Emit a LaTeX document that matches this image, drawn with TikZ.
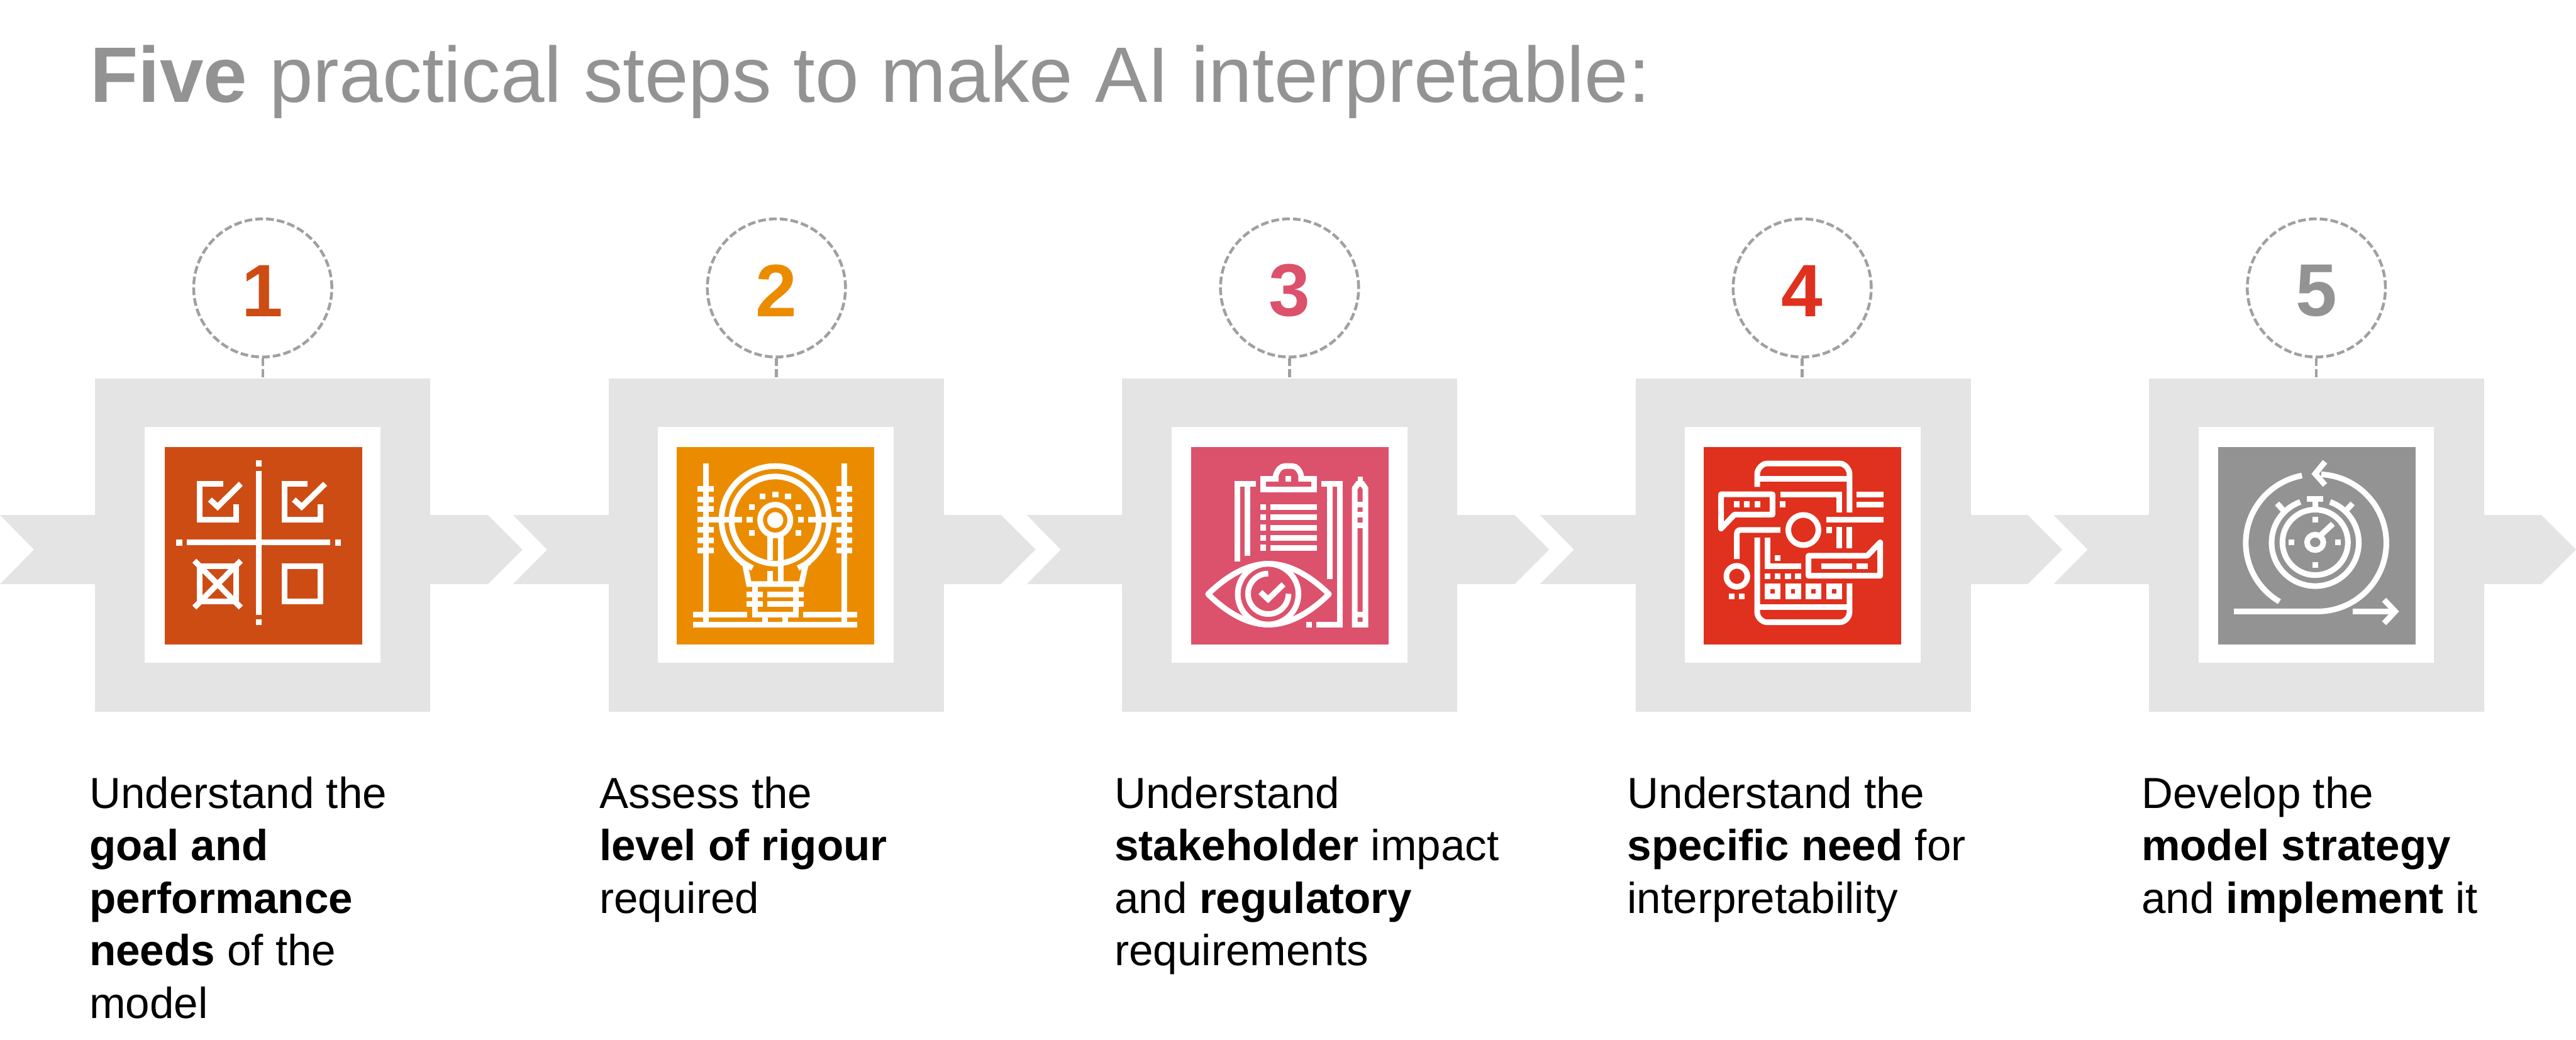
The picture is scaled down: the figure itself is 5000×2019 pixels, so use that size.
\documentclass[tikz,border=0pt]{standalone}
\usepackage{fontspec}
\setmainfont{Liberation Sans}
\definecolor{bandgrey}{HTML}{E4E4E4}
\definecolor{titlegrey}{HTML}{939393}
\definecolor{linkgrey}{HTML}{A0A0A0}
\definecolor{stepone}{HTML}{CD4C14}
\definecolor{steptwo}{HTML}{EB8C00}
\definecolor{stepthree}{HTML}{DC516B}
\definecolor{stepfour}{HTML}{E0301E}
\definecolor{stepfive}{HTML}{939393}
\tikzset{
  greybox/.style={fill=bandgrey, minimum width=6.5cm, minimum height=6.47cm, inner sep=0},
  whitebox/.style={fill=white, minimum width=4.57cm, minimum height=4.58cm, inner sep=0},
  iconbox/.style={minimum width=3.83cm, minimum height=3.83cm, inner sep=0},
  numcircle/.style={draw=linkgrey, line width=0.055cm, dash pattern=on 0.15cm off 0.06cm, circle, fill=white, minimum size=2.68cm, inner sep=0, text height=1.1cm, font=\bfseries\fontsize{41}{42}\selectfont},
  linkline/.style={draw=linkgrey, line width=0.055cm, dash pattern=on 0.15cm off 0.06cm},
  steptext/.style={anchor=north west, inner sep=0, align=left, font=\fontsize{24}{29}\selectfont},
  iconline/.style={draw=white, line width=0.11cm},
}
\begin{document}
\begin{tikzpicture}[x=0.01cm,y=-0.01cm]
	\useasboundingbox (0,0) rectangle (5000,2019);

	%Title
	%------------------------------------------------------
	\node[anchor=base west, inner sep=0, text=titlegrey, font=\fontsize{43.4}{50}\selectfont] (title) at (174,198) {\textbf{Five} practical steps to make AI interpretable:};

	%Band
	%------------------------------------------------------
	\fill[bandgrey] (0,1000) -- (947,1000) -- (1014,1067) -- (947,1134) -- (0,1134) -- (66,1067) -- cycle;
	\fill[bandgrey] (996,1000) -- (1943,1000) -- (2010,1067) -- (1943,1134) -- (996,1134) -- (1062,1067) -- cycle;
	\fill[bandgrey] (1993,1000) -- (2940,1000) -- (3007,1067) -- (2940,1134) -- (1993,1134) -- (2059,1067) -- cycle;
	\fill[bandgrey] (2989,1000) -- (3936,1000) -- (4003,1067) -- (3936,1134) -- (2989,1134) -- (3055,1067) -- cycle;
	\fill[bandgrey] (3986,1000) -- (4933,1000) -- (5000,1067) -- (4933,1134) -- (3986,1134) -- (4052,1067) -- cycle;

	%Boxes
	%------------------------------------------------------
	\node[greybox] (box1) at (510,1058) {};
	\node[greybox] (box2) at (1507,1058) {};
	\node[greybox] (box3) at (2503,1058) {};
	\node[greybox] (box4) at (3500,1058) {};
	\node[greybox] (box5) at (4496,1058) {};

	\node[whitebox] (white1) at (510,1058) {};
	\node[whitebox] (white2) at (1506,1058) {};
	\node[whitebox] (white3) at (2503,1058) {};
	\node[whitebox] (white4) at (3499,1058) {};
	\node[whitebox] (white5) at (4496,1058) {};

	\node[iconbox, fill=stepone] (icon1) at (511,1059) {};
	\node[iconbox, fill=steptwo] (icon2) at (1505,1059) {};
	\node[iconbox, fill=stepthree] (icon3) at (2504,1059) {};
	\node[iconbox, fill=stepfour] (icon4) at (3499,1059) {};
	\node[iconbox, fill=stepfive] (icon5) at (4497,1059) {};

	%Numbers
	%------------------------------------------------------
	\node[numcircle, text=stepone] (num1) at (510,559) {1};
	\node[numcircle, text=steptwo] (num2) at (1507,559) {2};
	\node[numcircle, text=stepthree] (num3) at (2503,559) {3};
	\node[numcircle, text=stepfour] (num4) at (3498,559) {4};
	\node[numcircle, text=stepfive] (num5) at (4496,559) {5};

	\draw[linkline] (num1) -- (box1);
	\draw[linkline] (num2) -- (box2);
	\draw[linkline] (num3) -- (box3);
	\draw[linkline] (num4) -- (num4 |- box4.north);
	\draw[linkline] (num5) -- (box5);

	%Icon 1
	%------------------------------------------------------
	\begin{scope}[shift={(300,860)},x=0.00333cm,y=-0.00333cm]
		\draw[iconline] (607,162) -- (607,1003);
		\draw[iconline] (188,581) -- (1026,581);
		\foreach \dotx/\doty in {607/119,607/1045,144/581,1069/581}
			\fill[white] (\dotx-17,\doty-17) rectangle (\dotx+17,\doty+17);
		\draw[iconline] (400,238) -- (262,238) -- (262,448) -- (475,448) -- (475,357);
		\draw[iconline] (323,330) -- (368,372) -- (503,238);
		\draw[iconline] (892,238) -- (757,238) -- (757,448) -- (966,448) -- (966,357);
		\draw[iconline] (812,330) -- (858,372) -- (995,238);
		\draw[iconline] (262,718) rectangle (475,926);
		\draw[iconline] (232,687) -- (503,960);
		\draw[iconline] (503,687) -- (232,960);
		\draw[iconline] (757,718) rectangle (966,926);
	\end{scope}

	%Icon 2
	%------------------------------------------------------
	\begin{scope}[shift={(1200,800)},x=0.00357cm,y=-0.00333cm]
		\draw[iconline] (476,300) -- (476,1240);
		\draw[iconline] (1230,300) -- (1230,1240);
		\foreach \ticky in {449,510,567,688,748,808} {
			\draw[iconline] (432,\ticky) -- (520,\ticky);
			\draw[iconline] (1186,\ticky) -- (1272,\ticky);
		}
		\draw[iconline] (432,628) -- (672,628);
		\draw[iconline] (1033,628) -- (1272,628);
		\draw[iconline] (408,1240) -- (1300,1240);
		\draw[iconline] (408,1181) -- (702,1181);
		\draw[iconline] (1005,1181) -- (1300,1181);
		\draw[iconline] (853,628) ++(124:292 and 313) arc[start angle=124,end angle=416,x radius=292,y radius=313];
		\draw[iconline] (853,630) ellipse[x radius=237,y radius=254];
		\draw[iconline] (853,630) ellipse[x radius=82,y radius=90];
		\fill[white] (853,630) ellipse[x radius=44,y radius=47];
		\foreach \dotx/\doty in {783/493,854/480,923/493,726/554,979/554,714/628,992/628,726/704,979/704}
			\fill[white] (\dotx-16,\doty-17) rectangle (\dotx+16,\doty+17);
		\draw[iconline] (826,720) -- (826,865);
		\draw[iconline] (882,720) -- (882,1003);
		\draw[iconline] (826,925) -- (826,1003);
		\draw[iconline] (668,875) -- (730,910);
		\draw[iconline] (1040,875) -- (977,910);
		\draw[iconline] (688,885) -- (710,1003) -- (995,1003) -- (1020,885);
		\draw[iconline] (742,1003) -- (742,1180) -- (965,1180) -- (965,1003);
		\draw[iconline] (698,1063) -- (785,1063);
		\draw[iconline] (808,1063) -- (1008,1063);
		\draw[iconline] (698,1120) -- (785,1120);
		\draw[iconline] (808,1120) -- (1008,1120);
		\draw[iconline] (797,1180) -- (797,1240);
		\draw[iconline] (908,1180) -- (908,1240);
	\end{scope}

	%Icon 3
	%------------------------------------------------------
	\begin{scope}[shift={(2250,800)},x=0.00333cm,y=-0.00333cm]
		\draw[iconline] (563,418) -- (456,418) -- (456,870);
		\draw[iconline] (515,418) -- (515,838);
		\draw[iconline] (680,390) -- (605,390) -- (605,450) -- (904,450) -- (904,390) -- (828,390);
		\draw[iconline] (680,405) -- (680,370) .. controls (690,335) and (710,315) .. (735,315) -- (775,315) .. controls (800,315) and (818,335) .. (828,370) -- (828,405);
		\fill[white] (736,373) rectangle (770,406);
		\foreach \listy in {554,614,674,734,791} {
			\fill[white] (589,\listy-17) rectangle (622,\listy+17);
			\draw[iconline] (649,\listy) -- (920,\listy);
		}
		\draw[iconline] (947,418) -- (1053,418) -- (1053,1240) -- (917,1240);
		\fill[white] (858,1223) rectangle (890,1257);
		\draw[iconline] (994,418) -- (994,975);
		\draw[iconline] (1140,1240) -- (1140,445) -- (1160,418) -- (1184,418) -- (1203,445) -- (1203,1240) -- cycle;
		\fill[white] (1157,375) rectangle (1188,402);
		\draw[iconline] (1140,539) -- (1203,539);
		\draw[iconline] (1140,597) -- (1203,597);
		\draw[iconline] (1140,659) -- (1203,659);
		\draw[iconline] (1140,1181) -- (1203,1181);
		\draw[iconline, line join=round] (285,1062) .. controls (400,950) and (520,885) .. (637,885) .. controls (755,885) and (875,950) .. (990,1062) .. controls (875,1175) and (755,1240) .. (637,1240) .. controls (520,1240) and (400,1175) .. (285,1062) -- cycle;
		\draw[iconline] (635,1062) circle[radius=177];
		\draw[iconline] (754,1060) arc[start angle=0,end angle=270,radius=118];
		\draw[iconline] (590,1050) -- (635,1092) -- (725,1005);
	\end{scope}

	%Icon 4
	%------------------------------------------------------
	\begin{scope}[shift={(3250,800)},x=0.00333cm,y=-0.00333cm]
		\draw[iconline] (483,437) -- (483,360) .. controls (483,335) and (510,300) .. (540,300) -- (965,300) .. controls (995,300) and (1021,335) .. (1021,360) -- (1021,585);
		\draw[iconline] (483,390) -- (1021,390);
		\draw[iconline] (617,480) -- (960,480) -- (960,585);
		\draw[iconline] (1063,480) -- (1218,480);
		\draw[iconline] (1063,538) -- (1218,538);
		\draw[iconline] (885,628) -- (1218,628);
		\draw[iconline] (961,670) -- (961,796);
		\draw[iconline] (1020,670) -- (1020,796);
		\draw[iconline] (752,688) circle[radius=88];
		\draw[iconline, line join=round] (272,480) -- (572,480) -- (572,598) -- (350,598) -- (272,680) -- cycle;
		\draw[iconline] (618,688) -- (385,688) .. controls (372,688) and (364,698) .. (364,710) -- (364,857);
		\draw[iconline] (364,958) circle[radius=61];
		\draw[iconline] (483,732) -- (483,1170) .. controls (483,1195) and (510,1226) .. (540,1226) -- (965,1226) .. controls (995,1226) and (1021,1195) .. (1021,1170) -- (1021,1000);
		\draw[iconline] (483,1137) -- (1021,1137);
		\draw[iconline] (544,732) -- (544,898) -- (738,898);
		\foreach \dotx/\doty in {632/538,364/538,423/538,484/538,902/688,333/1076,394/1076,602/852,543/957,602/957,662/957,721/957}
			\fill[white] (\dotx-17,\doty-17) rectangle (\dotx+17,\doty+17);
		\foreach \keyx in {572,692,811,932}
			\draw[iconline] (\keyx-29,1018) rectangle (\keyx+29,1077);
		\draw[iconline, line join=round] (782,838) -- (1125,838) -- (1200,760) -- (1200,955) -- (782,955) -- cycle;
		\draw[iconline] (855,898) -- (1037,898);
		\draw[iconline] (1063,898) -- (1128,898);
	\end{scope}

	%Icon 5
	%------------------------------------------------------
	\begin{scope}[shift={(4250,800)},x=0.00478cm,y=-0.00333cm]
		\draw[iconline] (510,762) ++(-70:177 and 253) arc[start angle=-70,end angle=250,x radius=177,y radius=253];
		\draw[iconline] (510,760) ellipse[x radius=133,y radius=191];
		\draw[iconline] (510,505) -- (510,560);
		\draw[iconline] (477,506) -- (542,506);
		\draw[iconline] (355,533) -- (382,575);
		\draw[iconline] (662,533) -- (635,575);
		\foreach \dotx/\doty in {510/627,510/893,413/759,602/759}
			\fill[white] (\dotx-12,\doty-17) rectangle (\dotx+12,\doty+17);
		\draw[iconline] (510,760) ellipse[x radius=33,y radius=45];
		\draw[iconline] (535,715) -- (582,652);
		\draw[iconline] (180,1163) -- (520,1163) arc[start angle=90,end angle=-87,x radius=279,y radius=400];
		\draw[iconline] (550,290) -- (510,360) -- (550,425);
		\draw[iconline] (510,763) ++(259:282 and 400) arc[start angle=259,end angle=121,x radius=282,y radius=400];
		\draw[iconline] (663,1163) -- (835,1163);
		\draw[iconline] (790,1095) -- (835,1163) -- (790,1232);
	\end{scope}

	%Texts
	%------------------------------------------------------
	\node[steptext] (text1) at (173,1507) {Understand the\\\textbf{goal and}\\\textbf{performance}\\\textbf{needs} of the\\model};
	\node[steptext] (text2) at (1163,1507) {Assess the\\\textbf{level of rigour}\\required};
	\node[steptext] (text3) at (2163,1507) {Understand\\\textbf{stakeholder} impact\\and \textbf{regulatory}\\requirements};
	\node[steptext] (text4) at (3158,1507) {Understand the\\\textbf{specific need} for\\interpretability};
	\node[steptext] (text5) at (4156,1507) {Develop the\\\textbf{model strategy}\\and \textbf{implement} it};
\end{tikzpicture}
\end{document}
